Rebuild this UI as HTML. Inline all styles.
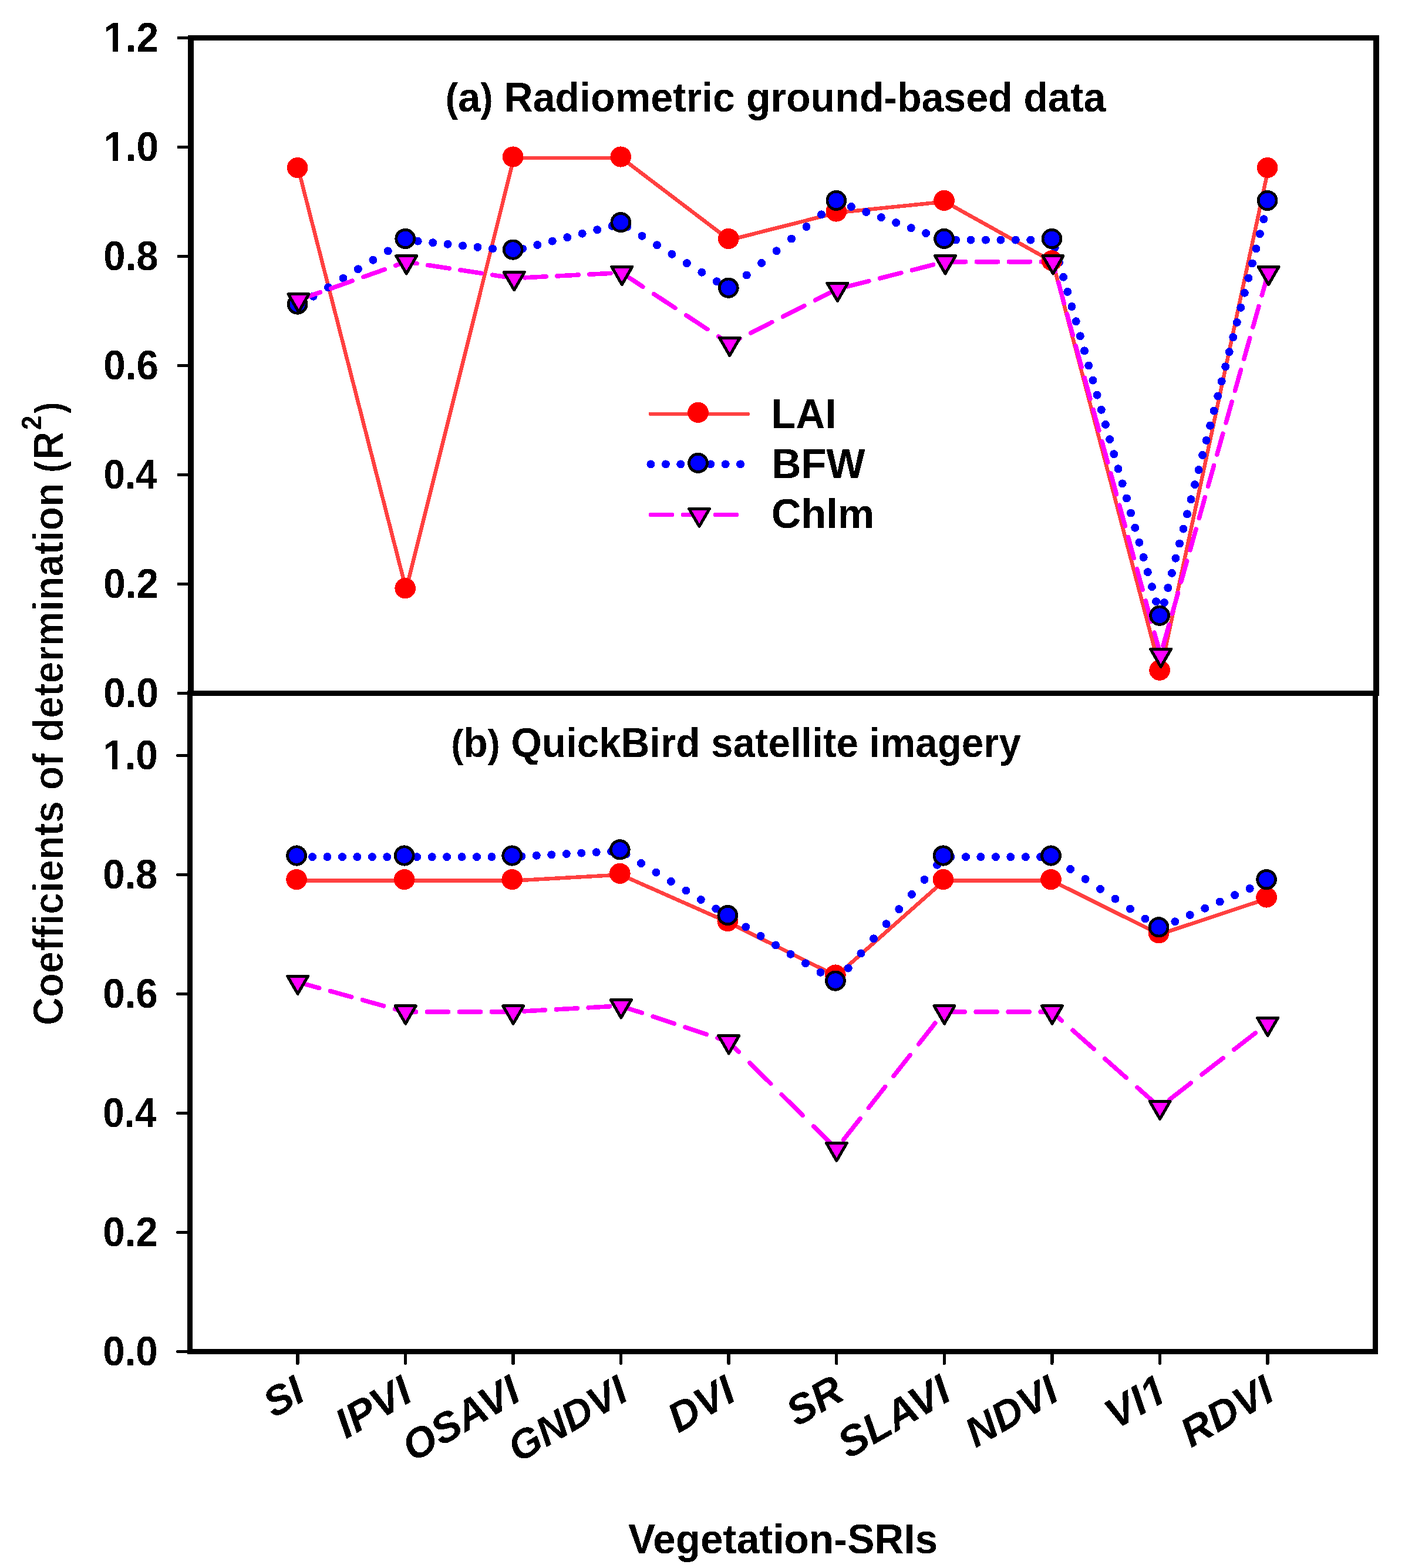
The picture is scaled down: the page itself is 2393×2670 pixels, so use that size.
<!DOCTYPE html>
<html lang="en">
<head>
<meta charset="utf-8">
<title>Coefficients of determination for vegetation SRIs</title>
<style>
html,body{margin:0;padding:0;background:#fff;}
body{width:2393px;height:2670px;overflow:hidden;}
svg{display:block;}
text{font-family:"Liberation Sans", Arial, Helvetica, sans-serif;font-weight:bold;fill:#000;}
.it{font-style:italic;}
</style>
</head>
<body>
<svg width="2393" height="2670" viewBox="0 0 2393 2670">
<defs>
<filter id="bw" x="-5%" y="-5%" width="110%" height="110%" color-interpolation-filters="sRGB">
<feComponentTransfer><feFuncR type="discrete" tableValues="0 1"/><feFuncG type="discrete" tableValues="0 1"/><feFuncB type="discrete" tableValues="0 1"/><feFuncA type="discrete" tableValues="0 1"/></feComponentTransfer>
</filter>
</defs>
<rect x="0" y="0" width="2393" height="2670" fill="#fff"/>
<g id="panel-a-data" shape-rendering="crispEdges">
<polyline points="508.1,287.7 691.7,1003.8 875.2,269.1 1058.8,269.1 1242.3,408.6 1425.9,362.1 1609.5,343.5 1793,445.8 1976.6,1143.3 2160.1,287.7" fill="none" stroke="#ff4040" stroke-width="6.5" stroke-linejoin="round" stroke-linecap="round"/>
<path d="M508.1 520.2h.01M533.6 504.7h.01M559 489.3h.01M584.5 473.8h.01M609.9 458.3h.01M635.4 442.8h.01M660.8 427.4h.01M686.3 411.9h.01M711.7 410.6h.01M737.2 413.2h.01M762.6 415.8h.01M788.1 418.4h.01M813.5 420.9h.01M839 423.5h.01M864.4 426.1h.01M889.9 423.5h.01M915.3 417h.01M940.8 410.6h.01M966.3 404.1h.01M991.7 397.7h.01M1017.2 391.2h.01M1042.6 384.8h.01M1068.1 386.3h.01M1093.5 401.8h.01M1119 417.3h.01M1144.4 432.8h.01M1169.9 448.2h.01M1195.3 463.7h.01M1220.8 479.2h.01M1246.2 489.1h.01M1271.7 468.5h.01M1297.1 447.9h.01M1322.6 427.2h.01M1348 406.6h.01M1373.5 386h.01M1399 365.3h.01M1424.4 344.7h.01M1449.9 352h.01M1475.3 361h.01M1500.8 370.1h.01M1526.2 379.1h.01M1551.7 388.1h.01M1577.1 397.1h.01M1602.6 406.2h.01M1628 408.6h.01M1653.5 408.6h.01M1678.9 408.6h.01M1704.4 408.6h.01M1729.8 408.6h.01M1755.3 408.6h.01M1780.7 408.6h.01M1796.7 421.6h.01M1803.9 446.7h.01M1811.1 471.8h.01M1818.3 496.9h.01M1825.5 522.1h.01M1832.7 547.2h.01M1839.8 572.3h.01M1847 597.4h.01M1854.2 622.5h.01M1861.4 647.6h.01M1868.6 672.7h.01M1875.8 697.8h.01M1882.9 722.9h.01M1890.1 748.1h.01M1897.3 773.2h.01M1904.5 798.3h.01M1911.7 823.4h.01M1918.9 848.5h.01M1926 873.6h.01M1933.2 898.7h.01M1940.4 923.8h.01M1947.6 949h.01M1954.8 974.1h.01M1962 999.2h.01M1969.1 1024.3h.01M1976.3 1049.4h.01M1982.9 1026.1h.01M1989.4 1001h.01M1995.9 975.9h.01M2002.4 950.7h.01M2009 925.6h.01M2015.5 900.5h.01M2022 875.4h.01M2028.5 850.3h.01M2035 825.2h.01M2041.6 800.1h.01M2048.1 775h.01M2054.6 749.9h.01M2061.1 724.7h.01M2067.7 699.6h.01M2074.2 674.5h.01M2080.7 649.4h.01M2087.2 624.3h.01M2093.7 599.2h.01M2100.3 574.1h.01M2106.8 549h.01M2113.3 523.8h.01M2119.8 498.7h.01M2126.3 473.6h.01M2132.9 448.5h.01M2139.4 423.4h.01M2145.9 398.3h.01M2152.4 373.2h.01M2159 348.1h.01" fill="none" stroke="#0000ff" stroke-width="14.0" stroke-linecap="round" stroke-linejoin="round"/>
<path d="M509 510.6L545.2 497.7M564 491.1L600.2 478.2M618.9 471.6L655.1 458.8M673.9 452.1L691.7 445.8L710.1 448.6M728.9 451.5L765.1 457M783.9 459.8L820.1 465.3M838.8 468.2L875 473.7M893.8 472.8L930 470.9M948.8 470L985 468.1M1003.7 467.2L1039.9 465.4M1058.7 464.4L1058.8 464.4L1094.9 488.2M1113.7 500.6L1149.9 524.4M1168.6 536.8L1204.8 560.6M1223.6 573L1242.3 585.3L1259.8 576.4M1278.6 566.9L1314.8 548.6M1333.5 539.1L1369.8 520.7M1388.5 511.2L1424.7 492.9M1443.5 487.8L1479.7 478.7M1498.5 473.9L1534.7 464.7M1553.4 460L1589.6 450.8M1608.4 446.1L1609.5 445.8L1644.6 445.8M1663.4 445.8L1699.6 445.8M1718.3 445.8L1754.5 445.8M1773.3 445.8L1793 445.8L1797.5 462.1M1802.6 480.6L1812.3 516.3M1817.4 534.8L1827.2 570.5M1832.3 589.1L1842.1 624.8M1847.2 643.3L1856.9 679M1862 697.5L1871.8 733.2M1876.9 751.8L1886.7 787.5M1891.8 806L1901.6 841.7M1906.6 860.2L1916.4 895.9M1921.5 914.5L1931.3 950.2M1936.4 968.7L1946.2 1004.4M1951.2 1022.9L1961 1058.6M1966.1 1077.2L1975.9 1112.9M1981.1 1099.4L1991.2 1063.7M1996.4 1045.2L2006.5 1009.5M2011.7 990.9L2021.7 955.2M2027 936.7L2037 901M2042.3 882.5L2052.3 846.8M2057.5 828.2L2067.6 792.5M2072.8 774L2082.9 738.3M2088.1 719.8L2098.2 684.1M2103.4 665.5L2113.5 629.8M2118.7 611.3L2128.8 575.6M2134 557.1L2144.1 521.4M2149.3 502.8L2159.4 467.1" fill="none" stroke="#ff00ff" stroke-width="7.6" stroke-linecap="round" stroke-linejoin="round"/>
<ellipse cx="506.6" cy="285.6" rx="17.85" ry="17.6" fill="#ff0000"/>
<ellipse cx="690.2" cy="1001.7" rx="17.85" ry="17.6" fill="#ff0000"/>
<ellipse cx="873.7" cy="267" rx="17.85" ry="17.6" fill="#ff0000"/>
<ellipse cx="1057.3" cy="267" rx="17.85" ry="17.6" fill="#ff0000"/>
<ellipse cx="1240.8" cy="406.5" rx="17.85" ry="17.6" fill="#ff0000"/>
<ellipse cx="1424.4" cy="360" rx="17.85" ry="17.6" fill="#ff0000"/>
<ellipse cx="1608" cy="341.4" rx="17.85" ry="17.6" fill="#ff0000"/>
<ellipse cx="1791.5" cy="443.7" rx="17.85" ry="17.6" fill="#ff0000"/>
<ellipse cx="1975.1" cy="1141.2" rx="17.85" ry="17.6" fill="#ff0000"/>
<ellipse cx="2158.6" cy="285.6" rx="17.85" ry="17.6" fill="#ff0000"/>
<ellipse cx="506.6" cy="518.1" rx="15.45" ry="15.2" fill="#0000ff" stroke="#000" stroke-width="4.8"/>
<ellipse cx="690.2" cy="406.5" rx="15.45" ry="15.2" fill="#0000ff" stroke="#000" stroke-width="4.8"/>
<ellipse cx="873.7" cy="425.1" rx="15.45" ry="15.2" fill="#0000ff" stroke="#000" stroke-width="4.8"/>
<ellipse cx="1057.3" cy="378.6" rx="15.45" ry="15.2" fill="#0000ff" stroke="#000" stroke-width="4.8"/>
<ellipse cx="1240.8" cy="490.2" rx="15.45" ry="15.2" fill="#0000ff" stroke="#000" stroke-width="4.8"/>
<ellipse cx="1424.4" cy="341.4" rx="15.45" ry="15.2" fill="#0000ff" stroke="#000" stroke-width="4.8"/>
<ellipse cx="1608" cy="406.5" rx="15.45" ry="15.2" fill="#0000ff" stroke="#000" stroke-width="4.8"/>
<ellipse cx="1791.5" cy="406.5" rx="15.45" ry="15.2" fill="#0000ff" stroke="#000" stroke-width="4.8"/>
<ellipse cx="1975.1" cy="1048.2" rx="15.45" ry="15.2" fill="#0000ff" stroke="#000" stroke-width="4.8"/>
<ellipse cx="2158.6" cy="341.4" rx="15.45" ry="15.2" fill="#0000ff" stroke="#000" stroke-width="4.8"/>
<path d="M491.1 500.8h35l-17.5 30.3z" fill="#ff00ff" stroke="#000" stroke-width="5" stroke-linejoin="round"/>
<path d="M674.7 435.7h35l-17.5 30.3z" fill="#ff00ff" stroke="#000" stroke-width="5" stroke-linejoin="round"/>
<path d="M858.2 463.6h35l-17.5 30.3z" fill="#ff00ff" stroke="#000" stroke-width="5" stroke-linejoin="round"/>
<path d="M1041.8 454.3h35l-17.5 30.3z" fill="#ff00ff" stroke="#000" stroke-width="5" stroke-linejoin="round"/>
<path d="M1225.3 575.2h35l-17.5 30.3z" fill="#ff00ff" stroke="#000" stroke-width="5" stroke-linejoin="round"/>
<path d="M1408.9 482.2h35l-17.5 30.3z" fill="#ff00ff" stroke="#000" stroke-width="5" stroke-linejoin="round"/>
<path d="M1592.5 435.7h35l-17.5 30.3z" fill="#ff00ff" stroke="#000" stroke-width="5" stroke-linejoin="round"/>
<path d="M1776 435.7h35l-17.5 30.3z" fill="#ff00ff" stroke="#000" stroke-width="5" stroke-linejoin="round"/>
<path d="M1959.6 1105.3h35l-17.5 30.3z" fill="#ff00ff" stroke="#000" stroke-width="5" stroke-linejoin="round"/>
<path d="M2143.1 454.3h35l-17.5 30.3z" fill="#ff00ff" stroke="#000" stroke-width="5" stroke-linejoin="round"/>
</g>
<g id="panel-b-data" shape-rendering="crispEdges">
<polyline points="506.6,1499.7 690.2,1499.7 873.7,1499.7 1057.3,1489.5 1240.8,1570.7 1424.4,1662 1608,1499.7 1791.5,1499.7 1975.1,1591 2158.6,1530.1" fill="none" stroke="#ff4040" stroke-width="6.5" stroke-linejoin="round" stroke-linecap="round"/>
<path d="M506.6 1459.1h.01M532.1 1459.1h.01M557.5 1459.1h.01M583 1459.1h.01M608.4 1459.1h.01M633.9 1459.1h.01M659.3 1459.1h.01M684.8 1459.1h.01M710.2 1459.1h.01M735.7 1459.1h.01M761.1 1459.1h.01M786.6 1459.1h.01M812 1459.1h.01M837.5 1459.1h.01M862.9 1459.1h.01M888.4 1458.2h.01M913.8 1456.8h.01M939.3 1455.4h.01M964.8 1454h.01M990.2 1452.6h.01M1015.7 1451.2h.01M1041.1 1449.8h.01M1066.6 1454.5h.01M1092 1470h.01M1117.5 1485.5h.01M1142.9 1501h.01M1168.4 1516.5h.01M1193.8 1532h.01M1219.3 1547.4h.01M1244.7 1562.9h.01M1270.2 1578.4h.01M1295.6 1593.9h.01M1321.1 1609.4h.01M1346.5 1624.8h.01M1372 1640.3h.01M1397.5 1655.8h.01M1422.9 1671.3h.01M1444.8 1648.6h.01M1466.4 1623.4h.01M1488 1598.3h.01M1509.6 1573.2h.01M1531.3 1548.1h.01M1552.9 1523h.01M1574.5 1497.9h.01M1596.1 1472.8h.01M1619.5 1459.1h.01M1645 1459.1h.01M1670.4 1459.1h.01M1695.9 1459.1h.01M1721.3 1459.1h.01M1746.8 1459.1h.01M1772.2 1459.1h.01M1797.7 1463.1h.01M1823.1 1480h.01M1848.6 1496.9h.01M1874 1513.8h.01M1899.5 1530.7h.01M1924.9 1547.6h.01M1950.4 1564.5h.01M1975.8 1580.5h.01M2001.3 1569.3h.01M2026.7 1558h.01M2052.2 1546.7h.01M2077.7 1535.5h.01M2103.1 1524.2h.01M2128.6 1513h.01M2154 1501.7h.01" fill="none" stroke="#0000ff" stroke-width="14.0" stroke-linecap="round" stroke-linejoin="round"/>
<path d="M507.5 1672.4L543.7 1682.5M562.5 1687.6L598.7 1697.7M617.4 1702.8L653.6 1712.9M672.4 1718L690.2 1723L708.6 1723M727.4 1723L763.6 1723M782.4 1723L818.6 1723M837.3 1723L873.5 1723M892.3 1721.9L928.5 1719.9M947.3 1718.9L983.5 1716.9M1002.2 1715.8L1038.4 1713.8M1057.2 1712.8L1057.3 1712.8L1093.4 1724.8M1112.2 1731L1148.4 1743M1167.1 1749.2L1203.3 1761.3M1222.1 1767.5L1240.8 1773.7L1258.2 1790.9M1276.8 1809.5L1312.6 1845.2M1331.3 1863.7L1367.1 1899.4M1385.7 1917.9L1421.6 1953.6M1436.8 1940.6L1464.9 1904.9M1479.4 1886.4L1507.5 1850.7M1522.1 1832.2L1550.2 1796.5M1564.7 1777.9L1592.8 1742.2M1607.4 1723.7L1608 1723L1643.4 1723M1662.2 1723L1698.4 1723M1717.1 1723L1753.3 1723M1772.1 1723L1791.5 1723L1808.3 1737.8M1827.1 1754.4L1863.3 1786.4M1882 1803L1918.2 1835.1M1937 1851.7L1973.2 1883.7M1992 1872.3L2028.2 1844.2M2046.9 1829.7L2083.1 1801.7M2101.9 1787.2L2138.1 1759.1M2156.9 1744.6L2158.6 1743.2" fill="none" stroke="#ff00ff" stroke-width="7.6" stroke-linecap="round" stroke-linejoin="round"/>
<ellipse cx="505.1" cy="1497.6" rx="17.85" ry="17.6" fill="#ff0000"/>
<ellipse cx="688.7" cy="1497.6" rx="17.85" ry="17.6" fill="#ff0000"/>
<ellipse cx="872.2" cy="1497.6" rx="17.85" ry="17.6" fill="#ff0000"/>
<ellipse cx="1055.8" cy="1487.4" rx="17.85" ry="17.6" fill="#ff0000"/>
<ellipse cx="1239.3" cy="1568.6" rx="17.85" ry="17.6" fill="#ff0000"/>
<ellipse cx="1422.9" cy="1660" rx="17.85" ry="17.6" fill="#ff0000"/>
<ellipse cx="1606.5" cy="1497.6" rx="17.85" ry="17.6" fill="#ff0000"/>
<ellipse cx="1790" cy="1497.6" rx="17.85" ry="17.6" fill="#ff0000"/>
<ellipse cx="1973.6" cy="1588.9" rx="17.85" ry="17.6" fill="#ff0000"/>
<ellipse cx="2157.1" cy="1528" rx="17.85" ry="17.6" fill="#ff0000"/>
<ellipse cx="505.1" cy="1457" rx="15.45" ry="15.2" fill="#0000ff" stroke="#000" stroke-width="4.8"/>
<ellipse cx="688.7" cy="1457" rx="15.45" ry="15.2" fill="#0000ff" stroke="#000" stroke-width="4.8"/>
<ellipse cx="872.2" cy="1457" rx="15.45" ry="15.2" fill="#0000ff" stroke="#000" stroke-width="4.8"/>
<ellipse cx="1055.8" cy="1446.8" rx="15.45" ry="15.2" fill="#0000ff" stroke="#000" stroke-width="4.8"/>
<ellipse cx="1239.3" cy="1558.5" rx="15.45" ry="15.2" fill="#0000ff" stroke="#000" stroke-width="4.8"/>
<ellipse cx="1422.9" cy="1670.1" rx="15.45" ry="15.2" fill="#0000ff" stroke="#000" stroke-width="4.8"/>
<ellipse cx="1606.5" cy="1457" rx="15.45" ry="15.2" fill="#0000ff" stroke="#000" stroke-width="4.8"/>
<ellipse cx="1790" cy="1457" rx="15.45" ry="15.2" fill="#0000ff" stroke="#000" stroke-width="4.8"/>
<ellipse cx="1973.6" cy="1578.8" rx="15.45" ry="15.2" fill="#0000ff" stroke="#000" stroke-width="4.8"/>
<ellipse cx="2157.1" cy="1497.6" rx="15.45" ry="15.2" fill="#0000ff" stroke="#000" stroke-width="4.8"/>
<path d="M489.6 1662.1h35l-17.5 30.3z" fill="#ff00ff" stroke="#000" stroke-width="5" stroke-linejoin="round"/>
<path d="M673.2 1712.9h35l-17.5 30.3z" fill="#ff00ff" stroke="#000" stroke-width="5" stroke-linejoin="round"/>
<path d="M856.7 1712.9h35l-17.5 30.3z" fill="#ff00ff" stroke="#000" stroke-width="5" stroke-linejoin="round"/>
<path d="M1040.3 1702.7h35l-17.5 30.3z" fill="#ff00ff" stroke="#000" stroke-width="5" stroke-linejoin="round"/>
<path d="M1223.8 1763.6h35l-17.5 30.3z" fill="#ff00ff" stroke="#000" stroke-width="5" stroke-linejoin="round"/>
<path d="M1407.4 1946.3h35l-17.5 30.3z" fill="#ff00ff" stroke="#000" stroke-width="5" stroke-linejoin="round"/>
<path d="M1591 1712.9h35l-17.5 30.3z" fill="#ff00ff" stroke="#000" stroke-width="5" stroke-linejoin="round"/>
<path d="M1774.5 1712.9h35l-17.5 30.3z" fill="#ff00ff" stroke="#000" stroke-width="5" stroke-linejoin="round"/>
<path d="M1958.1 1875.2h35l-17.5 30.3z" fill="#ff00ff" stroke="#000" stroke-width="5" stroke-linejoin="round"/>
<path d="M2141.6 1733.2h35l-17.5 30.3z" fill="#ff00ff" stroke="#000" stroke-width="5" stroke-linejoin="round"/>
</g>
<g id="legend" shape-rendering="crispEdges">
<path d="M1107.9 704.9H1274" fill="none" stroke="#ff4040" stroke-width="6.5" stroke-linecap="round"/>
<path d="M1108.4 790.4h.01M1133.9 790.4h.01M1159.3 790.4h.01M1184.8 790.4h.01M1210.2 790.4h.01M1235.7 790.4h.01M1261.1 790.4h.01" fill="none" stroke="#0000ff" stroke-width="14.0" stroke-linecap="round"/>
<path d="M1108.4 876.6L1144.6 876.6M1163.4 876.6L1199.6 876.6M1218.3 876.6L1254.5 876.6" fill="none" stroke="#ff00ff" stroke-width="7.6" stroke-linecap="round"/>
<ellipse cx="1189" cy="702.4" rx="17.85" ry="17.6" fill="#ff0000"/>
<ellipse cx="1189" cy="788.4" rx="15.45" ry="15.2" fill="#0000ff" stroke="#000" stroke-width="4.8"/>
<path d="M1173.5 866.2h35l-17.5 30.3z" fill="#ff00ff" stroke="#000" stroke-width="5" stroke-linejoin="round"/>
</g>
<g id="frames" fill="#000" shape-rendering="crispEdges">
<rect x="320" y="60" width="2029" height="9"/>
<rect x="320" y="60" width="10" height="1125"/>
<rect x="2339" y="60" width="10" height="1125"/>
<rect x="319" y="1176" width="2030" height="9"/>
<rect x="319" y="1180" width="9" height="1126"/>
<rect x="2338" y="1180" width="9" height="1126"/>
<rect x="319" y="2297" width="2028" height="9"/>
</g>
<g id="ticks" stroke="#000" stroke-width="5.4" stroke-linecap="round" shape-rendering="crispEdges">
<line x1="304.4" y1="1180.5" x2="321" y2="1180.5"/>
<line x1="304.4" y1="994.5" x2="321" y2="994.5"/>
<line x1="304.4" y1="808.5" x2="321" y2="808.5"/>
<line x1="304.4" y1="622.5" x2="321" y2="622.5"/>
<line x1="304.4" y1="436.5" x2="321" y2="436.5"/>
<line x1="304.4" y1="250.5" x2="321" y2="250.5"/>
<line x1="304.4" y1="64.5" x2="321" y2="64.5"/>
<line x1="302.8" y1="2301.5" x2="320" y2="2301.5"/>
<line x1="302.8" y1="2098.5" x2="320" y2="2098.5"/>
<line x1="302.8" y1="1895.5" x2="320" y2="1895.5"/>
<line x1="302.8" y1="1692.5" x2="320" y2="1692.5"/>
<line x1="302.8" y1="1489.5" x2="320" y2="1489.5"/>
<line x1="302.8" y1="1286.5" x2="320" y2="1286.5"/>
<line x1="506.9" y1="2304" x2="506.9" y2="2321.4"/>
<line x1="690.5" y1="2304" x2="690.5" y2="2321.4"/>
<line x1="874" y1="2304" x2="874" y2="2321.4"/>
<line x1="1057.6" y1="2304" x2="1057.6" y2="2321.4"/>
<line x1="1241.1" y1="2304" x2="1241.1" y2="2321.4"/>
<line x1="1424.7" y1="2304" x2="1424.7" y2="2321.4"/>
<line x1="1608.3" y1="2304" x2="1608.3" y2="2321.4"/>
<line x1="1791.8" y1="2304" x2="1791.8" y2="2321.4"/>
<line x1="1975.4" y1="2304" x2="1975.4" y2="2321.4"/>
<line x1="2158.9" y1="2304" x2="2158.9" y2="2321.4"/>
</g>
<g id="labels" filter="url(#bw)">
<text transform="translate(176.34,1203.90) scale(0.9844,1.0180)" font-size="68.5">0.0</text>
<text transform="translate(176.34,1017.90) scale(0.9844,1.0180)" font-size="68.5">0.2</text>
<text transform="translate(176.41,831.90) scale(0.9578,1.0180)" font-size="68.5">0.4</text>
<text transform="translate(176.34,645.90) scale(0.9844,1.0180)" font-size="68.5">0.6</text>
<text transform="translate(176.35,459.90) scale(0.9790,1.0180)" font-size="68.5">0.8</text>
<g transform="translate(176.16,273.90) scale(0.9864,1.0180)"><text font-size="68.5">1.0</text><path fill="#fff" d="M3.08 -8.56H15.89V2.40H3.08ZM25.48 -8.56H37.33V2.40H25.48Z"/></g>
<g transform="translate(176.06,87.90) scale(0.9875,1.0180)"><text font-size="68.5">1.2</text><path fill="#fff" d="M3.08 -8.56H15.89V2.40H3.08ZM25.48 -8.56H37.33V2.40H25.48Z"/></g>
<text transform="translate(175.14,2324.90) scale(0.9844,1.0180)" font-size="68.5">0.0</text>
<text transform="translate(175.14,2121.90) scale(0.9844,1.0180)" font-size="68.5">0.2</text>
<text transform="translate(175.21,1918.90) scale(0.9578,1.0180)" font-size="68.5">0.4</text>
<text transform="translate(175.14,1715.90) scale(0.9844,1.0180)" font-size="68.5">0.6</text>
<text transform="translate(175.15,1512.90) scale(0.9790,1.0180)" font-size="68.5">0.8</text>
<g transform="translate(174.96,1309.90) scale(0.9864,1.0180)"><text font-size="68.5">1.0</text><path fill="#fff" d="M3.08 -8.56H15.89V2.40H3.08ZM25.48 -8.56H37.33V2.40H25.48Z"/></g>
<text transform="translate(758.82,190.00) scale(0.9939,1.0400)" font-size="68.5"><tspan font-size="65">(</tspan>a<tspan font-size="65">)</tspan> Radiometric ground-based data</text>
<text transform="translate(768.15,1288.80) scale(0.9833,1.0400)" font-size="68.5"><tspan font-size="65">(</tspan>b<tspan font-size="65">)</tspan> QuickBird satellite imagery</text>
<text transform="translate(1313.58,729.00) scale(1.0040,1.0400)" font-size="68.5">LAI</text>
<text transform="translate(1314.00,814.30) scale(1.0232,1.0400)" font-size="68.5">BFW</text>
<text transform="translate(1313.83,899.20) scale(1.0238,1.0400)" font-size="68.5">Chlm</text>
<text transform="translate(1069.89,2645.40) scale(1.0112,1.0400)" font-size="68.5">Vegetation-SRIs</text>
<text transform="translate(466.22,2415.26) scale(1.0180) rotate(-30)" class="it" font-size="68.5">SI</text>
<text transform="translate(589.33,2450.94) scale(1.0447) rotate(-30)" class="it" font-size="68.5">IPVI</text>
<text transform="translate(703.37,2490.69) scale(1.0411) rotate(-30)" class="it" font-size="68.5">OSAVI</text>
<text transform="translate(883.06,2491.80) scale(1.0146) rotate(-30)" class="it" font-size="68.5">GNDVI</text>
<text transform="translate(1155.19,2441.36) scale(1.0324) rotate(-30)" class="it" font-size="68.5">DVI</text>
<text transform="translate(1357.17,2430.14) scale(1.0270) rotate(-30)" class="it" font-size="68.5">SR</text>
<text transform="translate(1445.27,2484.99) scale(1.0509) rotate(-30)" class="it" font-size="68.5">SLAVI</text>
<text transform="translate(1661.74,2465.96) scale(1.0276) rotate(-30)" class="it" font-size="68.5">NDVI</text>
<g transform="translate(1900.04,2435.16) scale(1.0547) rotate(-30)"><text class="it" font-size="68.5">VI1</text><path fill="#fff" d="M64.05 2.40L76.79 2.40L78.91 -8.77L65.69 -8.77ZM86.65 2.40L99.33 2.40L101.45 -8.77L88.91 -8.77Z"/></g>
<text transform="translate(2028.87,2465.98) scale(1.0280) rotate(-30)" class="it" font-size="68.5">RDVI</text>
<g transform="translate(107.80,1746.24) scale(1.0430,0.9544)"><text font-size="70" transform="rotate(-90)" stroke="#fff" stroke-width="0.9">Coefficients of determination <tspan font-size="65.7" dx="-1.9">(</tspan><tspan dx="1.7">R</tspan><tspan font-size="45.6" dx="2.9" dy="-36.3" stroke-width="0.3">2</tspan><tspan font-size="65.7" dx="2.8" dy="36.3">)</tspan></text></g>
</g>
</svg>
</body>
</html>
